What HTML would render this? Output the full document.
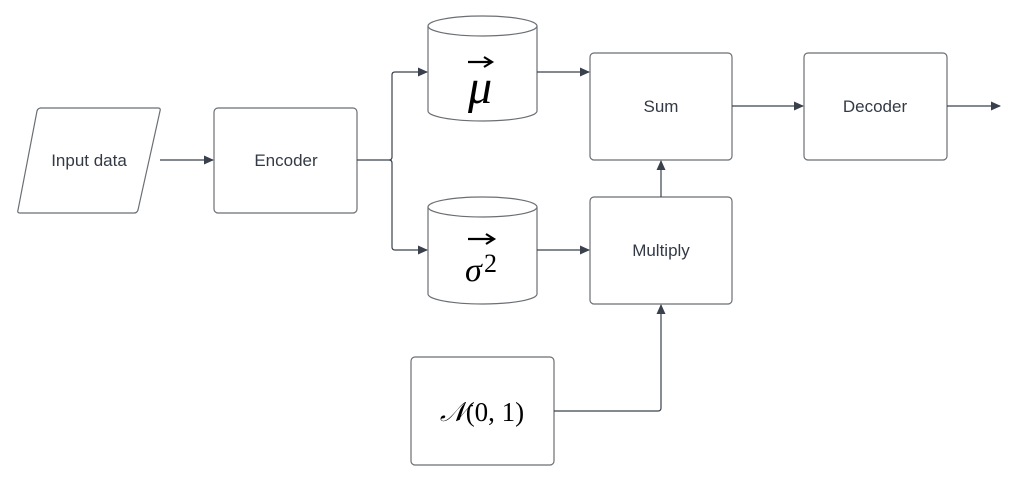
<!DOCTYPE html>
<html><head><style>
body{margin:0;background:#fff;}
svg{display:block}
text{font-family:"Liberation Sans",sans-serif;fill:#333a45;font-size:17px}
text.m{font-family:"Liberation Serif",serif;fill:#000}
</style></head><body>
<svg width="1024" height="483" viewBox="0 0 1024 483">
<defs><marker id="a" markerWidth="10" markerHeight="10" refX="9" refY="5" orient="auto" markerUnits="userSpaceOnUse"><path d="M0,0.5 L10,5 L0,9.5 Z" fill="#3a414c"/></marker></defs>
<g fill="#fff" stroke="#6b6f75" stroke-width="1.2">
<path d="M40,108 L158,108 Q161,108 160,111 L138,210 Q137,213 134,213 L20,213 Q17,213 18,210 L37,111 Q38,108 41,108 Z"/>
<rect x="214" y="108" width="143" height="105" rx="4"/>
<rect x="590" y="53" width="142" height="107" rx="4"/>
<rect x="590" y="197" width="142" height="107" rx="4"/>
<rect x="804" y="53" width="143" height="107" rx="4"/>
<rect x="411" y="357" width="143" height="108" rx="4"/>
<path d="M428,26 L428,111 A54.5,10 0 0 0 537,111 L537,26"/>
<ellipse cx="482.5" cy="26" rx="54.5" ry="10"/>
<path d="M428,207 L428,294 A54.5,10 0 0 0 537,294 L537,207"/>
<ellipse cx="482.5" cy="207" rx="54.5" ry="10"/>
</g>
<g fill="none" stroke="#3a414c" stroke-width="1.2">
<line x1="160" y1="160" x2="213" y2="160" marker-end="url(#a)"/>
<path d="M357,160 L389,160 Q392,160 392,157 L392,75 Q392,72 395,72 L427,72" marker-end="url(#a)"/>
<path d="M389,160 Q392,160 392,163 L392,247 Q392,250 395,250 L427,250" marker-end="url(#a)"/>
<line x1="537" y1="72" x2="589" y2="72" marker-end="url(#a)"/>
<line x1="537" y1="250" x2="589" y2="250" marker-end="url(#a)"/>
<line x1="661" y1="197" x2="661" y2="161" marker-end="url(#a)"/>
<path d="M554,411 L658,411 Q661,411 661,408 L661,305" marker-end="url(#a)"/>
<line x1="732" y1="106" x2="803" y2="106" marker-end="url(#a)"/>
<line x1="947" y1="106" x2="1000" y2="106" marker-end="url(#a)"/>
</g>
<text x="89" y="166" text-anchor="middle">Input data</text>
<text x="286" y="166" text-anchor="middle">Encoder</text>
<text x="661" y="112" text-anchor="middle">Sum</text>
<text x="661" y="256" text-anchor="middle">Multiply</text>
<text x="875" y="112" text-anchor="middle">Decoder</text>
<text class="m" x="480" y="103" text-anchor="middle" style="font-size:48px;font-style:italic">μ</text>
<path d="M468,62 L491,62 M484,57 L492,62 L484,67" stroke="#000" stroke-width="2.2" fill="none"/>
<text class="m" x="465" y="281" style="font-size:34px;font-style:italic">σ</text>
<text class="m" x="484" y="272" style="font-size:26px">2</text>
<path d="M468,239 L493,239 M486,234 L494,239 L486,244" stroke="#000" stroke-width="2.2" fill="none"/>
<text class="m" x="482" y="421" text-anchor="middle" style="font-size:27px"><tspan style="font-style:italic">𝒩</tspan>(0, 1)</text>
</svg>
</body></html>
